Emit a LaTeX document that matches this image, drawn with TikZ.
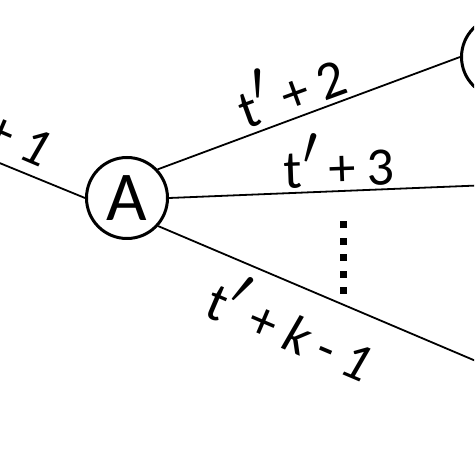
\documentclass[tikz,border=0pt]{standalone}
\usepackage{fontspec}
\setmainfont{Carlito}
\newcommand{\tpr}{t\kern0.02em\raisebox{0.42em}{\scalebox{1.1}{$\prime$}}}
\newcommand{\gp}{\hspace{0.2em}}
\begin{document}
\begin{tikzpicture}[x=0.5pt,y=-0.5pt,
  vtx/.style={circle,draw,line width=1.5pt,minimum size=40.5pt,inner sep=0pt,font=\fontsize{35}{36}\selectfont},
  edge/.style={line width=0.9pt},
  lbl/.style={font=\fontsize{27}{30}\selectfont,inner sep=0pt}]
\useasboundingbox (0,0) rectangle (474,474);
\clip (0,0) rectangle (474,474);
\node[vtx] (A) at (127,198) {A};
\node[vtx] (B) at (502,57) {};
\coordinate (L) at (-20,155);
\coordinate (M) at (490,185);
\coordinate (D) at (490,367);
\draw[edge] (A.west) -- (L);
\draw[edge] (A.43) -- (B.west);
\draw[edge] (A.east) -- (M);
\draw[edge] (A.-42) -- (D);
\foreach \yy in {225,241.5,258,274.5,291}
  \fill (339.5,\yy-3.5) rectangle ++(7,7);
\node[lbl,rotate=20] (l2) at (289,86) {\tpr\gp+\gp2};
\node[lbl,rotate=2] (l3) at (339,160) {\tpr\gp+\gp3};
\node[lbl,rotate=-23] (lk) at (293,325) {\tpr\gp+\gp\textit{k}\gp-\gp\textit{1}};
\node[lbl,rotate=-23,anchor=east] (l1) at (52,144) {\tpr\gp+\gp\textit{1}};
\end{tikzpicture}
\end{document}
